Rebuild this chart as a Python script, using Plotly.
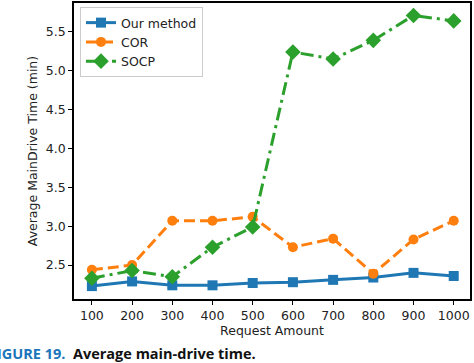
import plotly.graph_objects as go

request_amount = [100, 200, 300, 400, 500, 600, 700, 800, 900, 1000]
our_method = [2.23, 2.29, 2.24, 2.24, 2.27, 2.28, 2.31, 2.34, 2.40, 2.36]
cor = [2.44, 2.50, 3.07, 3.07, 3.12, 2.73, 2.84, 2.39, 2.83, 3.07]
socp = [2.33, 2.43, 2.35, 2.73, 2.99, 5.24, 5.15, 5.39, 5.71, 5.64]
x_ticks = [100, 200, 300, 400, 500, 600, 700, 800, 900, 1000]
y_ticks = [2.5, 3.0, 3.5, 4.0, 4.5, 5.0, 5.5]

W, H = 474, 363
ml, mr, mt, mb = 74, 4, 3, 64
pw = W - ml - mr
ph = H - mt - mb

fig = go.Figure()
fig.add_trace(go.Scatter(x=request_amount, y=our_method, name="Our method", mode="lines+markers",
                         line=dict(color="#1f77b4", width=3),
                         marker=dict(symbol="square", size=10, color="#1f77b4")))
fig.add_trace(go.Scatter(x=request_amount, y=cor, name="COR", mode="lines+markers",
                         line=dict(color="#ff7f0e", width=3, dash="11px,5px"),
                         marker=dict(symbol="circle", size=10, color="#ff7f0e")))
fig.add_trace(go.Scatter(x=request_amount, y=socp, name="SOCP", mode="lines+markers",
                         line=dict(color="#2ca02c", width=3, dash="13px,5px,3px,5px"),
                         marker=dict(symbol="diamond", size=12, color="#2ca02c")))

font = "DejaVu Sans"
fig.update_layout(
    width=W, height=H,
    margin=dict(l=ml, r=mr, t=mt, b=mb, autoexpand=False),
    paper_bgcolor="white", plot_bgcolor="white",
    font=dict(family=font, size=12, color="#222"),
    showlegend=True,
    legend=dict(x=6 / pw, y=1 - 4 / ph, xanchor="left", yanchor="top",
                bgcolor="rgba(255,255,255,0.8)", bordercolor="#cccccc", borderwidth=1,
                font=dict(family=font, size=12.5, color="#222"),
                itemwidth=30, tracegroupgap=0),
    xaxis=dict(range=[55.5, 1040.5], tickmode="array", tickvals=x_ticks,
               ticktext=[str(v) for v in x_ticks], automargin=False,
               showgrid=False, zeroline=False, showline=True, linecolor="black", linewidth=1.5,
               mirror=True, ticks="outside", ticklen=4, tickcolor="black",
               tickfont=dict(family=font, size=12.5, color="#222"),
               title=dict(text="Request Amount", font=dict(family=font, size=12.5, color="#222"), standoff=4)),
    yaxis=dict(range=[2.064, 5.87], tickmode="array", tickvals=y_ticks,
               ticktext=[f"{v:.1f}" for v in y_ticks], automargin=False,
               showgrid=False, zeroline=False, showline=True, linecolor="black", linewidth=1.5,
               mirror=True, ticks="outside", ticklen=4, tickcolor="black",
               tickfont=dict(family=font, size=12.5, color="#222"),
               title=dict(text="Average MainDrive Time (min)", font=dict(family=font, size=12.5, color="#222"), standoff=5)),
)

fig.add_annotation(
    text="<b><span style='color:#1b75bb'>FIGURE 19.</span>  Average main-drive time.</b>",
    xref="paper", yref="paper",
    x=(-13 - ml) / pw, y=-(353 - mt - ph) / ph,
    xanchor="left", yanchor="middle", showarrow=False,
    font=dict(family="Open Sans", size=14.5, color="#111"),
)

fig.write_html("out.html", config={"displayModeBar": False},
               post_script="document.body.style.margin='0';document.body.style.overflow='hidden';")
